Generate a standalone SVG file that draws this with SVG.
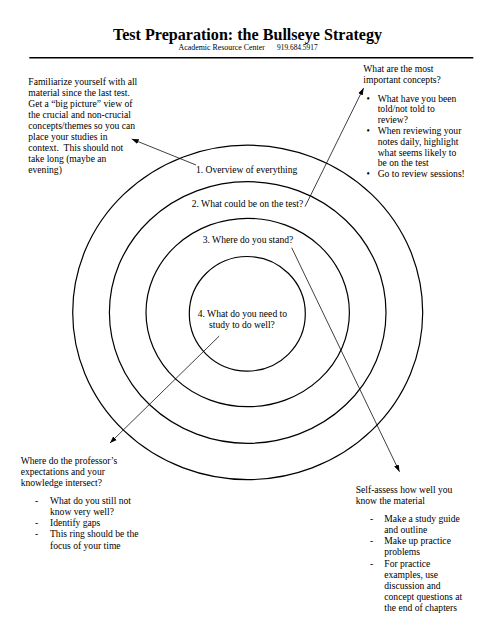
<svg xmlns="http://www.w3.org/2000/svg" width="495" height="640" viewBox="0 0 495 640">
<style>
text{font-family:"Liberation Serif","Times New Roman",serif;fill:#000;}
.t{font-size:9.6px;}
.ring{fill:none;stroke:#000;stroke-width:1.2;}
.conn{stroke:#000;stroke-width:0.75;fill:none;marker-end:url(#ah);}
</style>
<defs>
<marker id="ah" markerUnits="userSpaceOnUse" markerWidth="8" markerHeight="6" refX="7" refY="3" orient="auto">
<path d="M0,0.5 L7,3 L0,5.5 Z" fill="#000"/>
</marker>
</defs>
<rect width="495" height="640" fill="#fff"/>
<g id="header">
<text x="247.5" y="40" font-size="16.1" font-weight="bold" text-anchor="middle">Test Preparation: the Bullseye Strategy</text>
<text x="178.5" y="50" font-size="7.9">Academic Resource Center</text>
<text x="277" y="50" font-size="7.4">919.684.5917</text>
<line x1="29.3" y1="57.7" x2="473.3" y2="57.7" stroke="#000" stroke-width="1.6"/>
</g>
<g id="rings">
<ellipse id="ring1" class="ring" cx="247.7" cy="312.4" rx="175" ry="167.2"/>
<ellipse id="ring2" class="ring" cx="247.7" cy="312.5" rx="138.3" ry="130.8"/>
<ellipse id="ring3" class="ring" cx="247.7" cy="312.5" rx="101.7" ry="94.2"/>
<ellipse id="ring4" class="ring" cx="247.3" cy="313.8" rx="58" ry="57.3"/>
</g>
<g id="connectors">
<line class="conn" x1="196" y1="165" x2="131.7" y2="139"/>
<line class="conn" x1="305" y1="206.7" x2="363.6" y2="88"/>
<line class="conn" x1="291.7" y1="247.7" x2="399.5" y2="471.8"/>
<line class="conn" x1="219.3" y1="336" x2="110" y2="443"/>
</g>
<g id="label1"><text class="t" x="196" y="172.5">1. Overview of everything</text></g>
<g id="label2"><text class="t" x="191.7" y="206.5">2. What could be on the test?</text></g>
<g id="label3"><text class="t" x="202.7" y="242.5">3. Where do you stand?</text></g>
<g id="label4">
<text class="t" x="197.7" y="316.5">4. What do you need to</text>
<text class="t" x="209" y="327.5">study to do well?</text>
</g>
<g id="note-overview">
<text class="t" x="28.3" y="85">Familiarize yourself with all</text>
<text class="t" x="28.3" y="96">material since the last test.</text>
<text class="t" x="28.3" y="107">Get a “big picture” view of</text>
<text class="t" x="28.3" y="118">the crucial and non-crucial</text>
<text class="t" x="28.3" y="129">concepts/themes so you can</text>
<text class="t" x="28.3" y="140">place your studies in</text>
<text class="t" x="28.3" y="151" xml:space="preserve">context.  This should not</text>
<text class="t" x="28.3" y="162">take long (maybe an</text>
<text class="t" x="28.3" y="173">evening)</text>
</g>
<g id="note-concepts">
<text class="t" x="363.3" y="71.5">What are the most</text>
<text class="t" x="363.3" y="82.5">important concepts?</text>
<text class="t" x="366.5" y="101.5">•</text>
<text class="t" x="377.7" y="101.5">What have you been</text>
<text class="t" x="377.7" y="112.3">told/not told to</text>
<text class="t" x="377.7" y="123.1">review?</text>
<text class="t" x="366.5" y="133.9">•</text>
<text class="t" x="377.7" y="133.9">When reviewing your</text>
<text class="t" x="377.7" y="144.7">notes daily, highlight</text>
<text class="t" x="377.7" y="155.5">what seems likely to</text>
<text class="t" x="377.7" y="166.3">be on the test</text>
<text class="t" x="366.5" y="177.1">•</text>
<text class="t" x="377.7" y="177.1">Go to review sessions!</text>
</g>
<g id="note-intersect">
<text class="t" x="20.7" y="463.5">Where do the professor’s</text>
<text class="t" x="20.7" y="474.5">expectations and your</text>
<text class="t" x="20.7" y="485.5">knowledge intersect?</text>
<text class="t" x="35" y="504">-</text>
<text class="t" x="50" y="504">What do you still not</text>
<text class="t" x="50" y="515">know very well?</text>
<text class="t" x="35" y="526">-</text>
<text class="t" x="50" y="526">Identify gaps</text>
<text class="t" x="35" y="537.3">-</text>
<text class="t" x="50" y="537.3">This ring should be the</text>
<text class="t" x="50" y="548.5">focus of your time</text>
</g>
<g id="note-selfassess">
<text class="t" x="355.7" y="492.5">Self-assess how well you</text>
<text class="t" x="355.7" y="503.5">know the material</text>
<text class="t" x="370" y="522">-</text>
<text class="t" x="384.3" y="522">Make a study guide</text>
<text class="t" x="384.3" y="533">and outline</text>
<text class="t" x="370" y="544">-</text>
<text class="t" x="384.3" y="544">Make up practice</text>
<text class="t" x="384.3" y="555.3">problems</text>
<text class="t" x="370" y="566.5">-</text>
<text class="t" x="384.3" y="566.5">For practice</text>
<text class="t" x="384.3" y="577.7">examples, use</text>
<text class="t" x="384.3" y="588.8">discussion and</text>
<text class="t" x="384.3" y="600">concept questions at</text>
<text class="t" x="384.3" y="611">the end of chapters</text>
</g>
</svg>
